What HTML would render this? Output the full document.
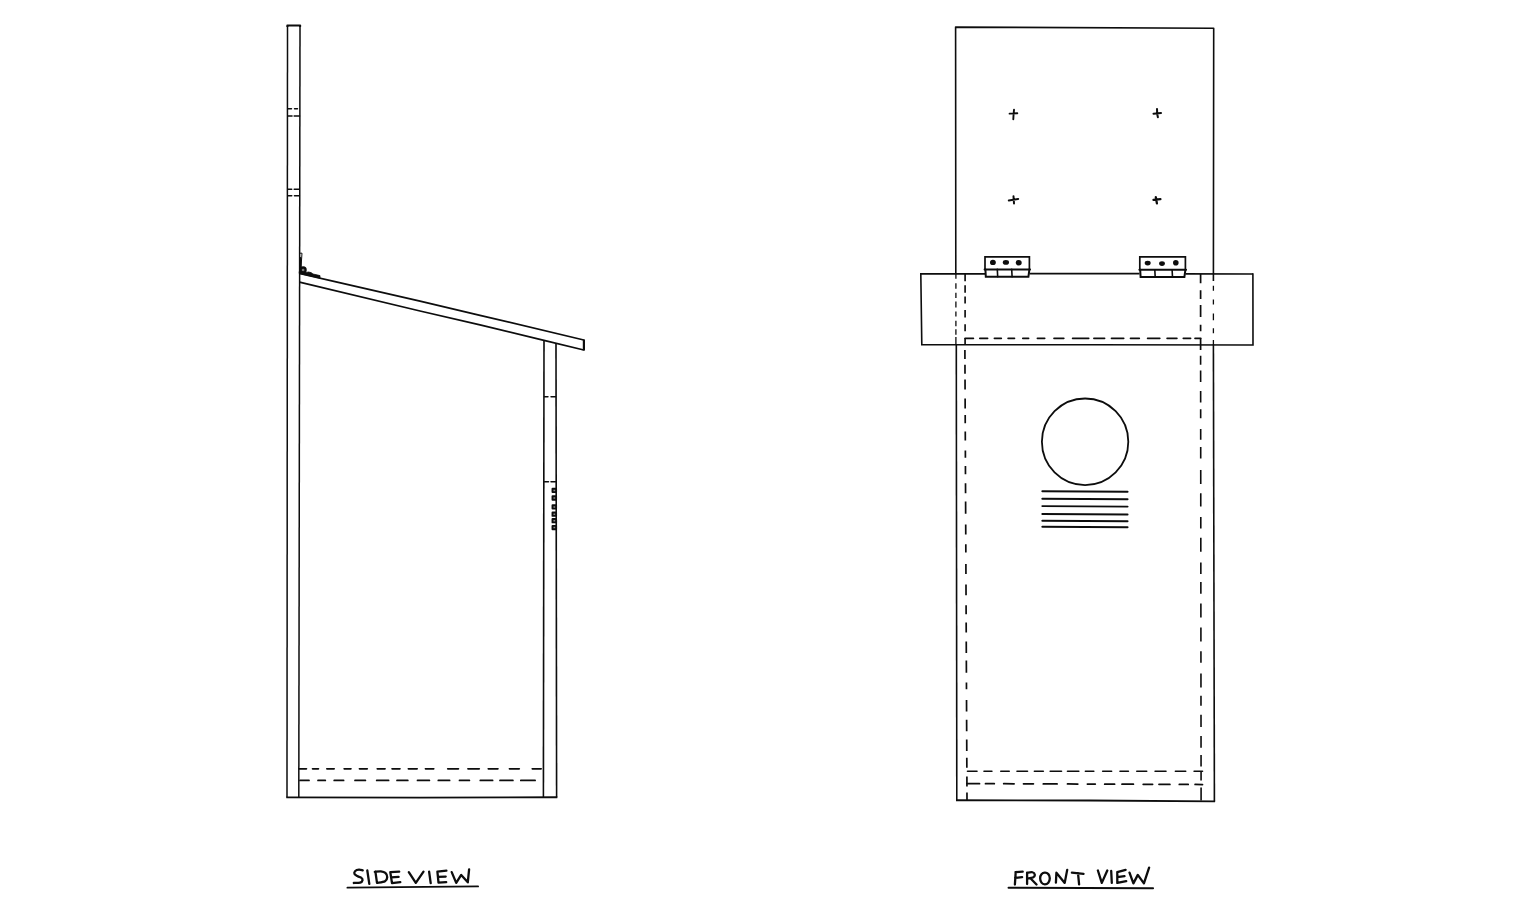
<!DOCTYPE html>
<html><head><meta charset="utf-8"><title>Nest box - side and front view</title>
<style>
html,body{margin:0;padding:0;background:#fff;}
body{width:1536px;height:911px;overflow:hidden;font-family:"Liberation Sans",sans-serif;}
svg{display:block}
</style></head><body>
<svg width="1536" height="911" viewBox="0 0 1536 911" stroke="#0d0d0d" fill="none">
<rect x="0" y="0" width="1536" height="911" fill="#ffffff" stroke="none"/>
<line x1="287.5" y1="26" x2="287.0" y2="797.5" stroke-width="1.5" stroke-linecap="butt"/>
<line x1="300.0" y1="26" x2="298.8" y2="797.5" stroke-width="1.5" stroke-linecap="butt"/>
<path d="M287.4 27L287.3 25.4L300.2 25.4L300.1 27" stroke-width="2.0" fill="none" stroke-linecap="butt" stroke-linejoin="round"/>
<path d="M288 108.7L291.5 108.7M294.5 108.7L297.5 108.7" stroke-width="1.4" fill="none" stroke-linecap="round" stroke-linejoin="round"/>
<path d="M288 116.0L292 116.0M294.2 116.0L299.5 116.0" stroke-width="1.6" fill="none" stroke-linecap="round" stroke-linejoin="round"/>
<path d="M288 189.3L291.7 189.3M294.2 189.3L299.3 189.3" stroke-width="1.5" fill="none" stroke-linecap="round" stroke-linejoin="round"/>
<path d="M288 195.8L291.7 195.8M294.5 195.8L299.3 195.8" stroke-width="1.6" fill="none" stroke-linecap="round" stroke-linejoin="round"/>
<path d="M299.5 273.5L335 281.6L420 301.2L480 315.3L583.8 340" stroke-width="1.7" fill="none" stroke-linecap="butt" stroke-linejoin="round"/>
<path d="M299.5 282.2L420 311L480 324.8L544 340.4L583.8 350" stroke-width="1.7" fill="none" stroke-linecap="butt" stroke-linejoin="round"/>
<path d="M583.9 339.4L583.9 350.6" stroke-width="2.2" fill="none" stroke-linecap="butt" stroke-linejoin="round"/>
<path d="M299.8 253.2L302 253.2L301.3 263L300.8 268" stroke-width="1.0" fill="none" stroke-linecap="round" stroke-linejoin="round"/>
<path d="M300.3 258L300.7 272" stroke-width="2.2" fill="none" stroke-linecap="round" stroke-linejoin="round"/>
<circle cx="303.1" cy="270" r="2.5" stroke-width="2.3" fill="#777"/>
<path d="M299.6 271.6L305 272.7L308.5 272L311 272.6L313 274L320 275.6L320 278.2L299.6 273.6Z" stroke-width="0.8" fill="#0d0d0d" stroke-linecap="round" stroke-linejoin="round"/>
<line x1="544.0" y1="340.6" x2="543.4" y2="797.5" stroke-width="1.6" stroke-linecap="butt"/>
<line x1="556.0" y1="343.6" x2="556.6" y2="797.5" stroke-width="1.6" stroke-linecap="butt"/>
<path d="M286.3 797.4L420 797.6L557.3 797.2" stroke-width="1.9" fill="none" stroke-linecap="butt" stroke-linejoin="round"/>
<path d="M544.5 396.7L548 396.7M551 396.7L555.5 396.7" stroke-width="1.4" fill="none" stroke-linecap="round" stroke-linejoin="round"/>
<path d="M544.5 481.8L548.5 481.8M551 481.8L555.5 481.8" stroke-width="1.5" fill="none" stroke-linecap="round" stroke-linejoin="round"/>
<rect x="552.5" y="488.7" width="3.6" height="3.4" stroke-width="1.9" fill="#8a8a8a" stroke-linejoin="round"/>
<rect x="552.5" y="496.3" width="3.6" height="3.4" stroke-width="1.9" fill="#8a8a8a" stroke-linejoin="round"/>
<rect x="552.5" y="505.2" width="3.6" height="3.4" stroke-width="1.9" fill="#8a8a8a" stroke-linejoin="round"/>
<rect x="552.5" y="512.5" width="3.6" height="3.4" stroke-width="1.9" fill="#8a8a8a" stroke-linejoin="round"/>
<rect x="552.5" y="519.0" width="3.6" height="3.4" stroke-width="1.9" fill="#8a8a8a" stroke-linejoin="round"/>
<rect x="552.5" y="525.9" width="3.6" height="3.4" stroke-width="1.9" fill="#8a8a8a" stroke-linejoin="round"/>
<path d="M298.8 768.8L306.5 768.8M312.5 768.8L318.5 768.8M326.8 768.8L334.2 768.8M344.1 768.8L351 768.8M359.4 768.8L367.3 768.8M377.2 768.8L385.1 768.8M392 768.8L400 768.8M408.3 768.8L417.2 768.8M425.4 768.8L433.8 768.8M447.7 768.8L458.5 768.8M467.9 768.8L479.3 768.8M488.2 768.8L498 768.8M509.4 768.8L519.3 768.8M532.2 768.8L541.2 768.8" stroke-width="1.65" fill="none" stroke-linecap="round" stroke-linejoin="round"/>
<path d="M300 780.4L309 780.4M318 780.4L325.3 780.4M334.2 780.4L343.6 780.4M355 780.4L365.4 780.4M376.7 780.4L388.6 780.4M397 780.4L407.8 780.4M417.5 780.4L429.4 780.4M438.3 780.4L449.6 780.4M459.5 780.4L469.4 780.4M480.3 780.4L492.6 780.4M500 780.4L512.9 780.4M520.8 780.4L535.1 780.4" stroke-width="1.75" fill="none" stroke-linecap="round" stroke-linejoin="round"/>
<path d="M955.8 273.8L955.6 27.1L1213.7 28.3L1213.4 281" stroke-width="1.6" fill="none" stroke-linecap="butt" stroke-linejoin="round"/>
<path d="M1009.6 113.6L1017.3 113.3M1014 109.8L1013.6 114L1013.3 119.2" stroke-width="1.9" fill="none" stroke-linecap="round" stroke-linejoin="round"/>
<path d="M1153.5 113.7L1161 113.1M1157 108.9L1157.2 114L1157.9 117.3" stroke-width="2.0" fill="none" stroke-linecap="round" stroke-linejoin="round"/>
<path d="M1008.8 200.4L1018.2 198.9M1013.5 196.3L1014 203.5" stroke-width="2.0" fill="none" stroke-linecap="round" stroke-linejoin="round"/>
<path d="M1153.5 199.8L1160.4 199.2M1155.8 197.1L1156.9 203.4" stroke-width="2.3" fill="none" stroke-linecap="round" stroke-linejoin="round"/>
<path d="M920.8 273.8L985 273.8M1029.5 273.6L1139.5 273.6M1185.5 273.8L1253 274" stroke-width="1.7" fill="none" stroke-linecap="butt" stroke-linejoin="round"/>
<path d="M920.8 273L921.8 344.6L1090 344.8L1253 345L1252.9 273.2" stroke-width="1.6" fill="none" stroke-linecap="butt" stroke-linejoin="miter"/>
<path d="M985.0 269.4L985.0 256.8L1029.4 256.8L1029.4 269.4" stroke-width="1.7" fill="none" stroke-linecap="round" stroke-linejoin="miter"/>
<path d="M984.6 269.4L1030.0 269.4" stroke-width="2.0" fill="none" stroke-linecap="round" stroke-linejoin="round"/>
<path d="M985.4 269.4L985.8 276.8L1028.4 276.8L1029.4 269.4" stroke-width="2.0" fill="none" stroke-linecap="round" stroke-linejoin="miter"/>
<path d="M997.3 269.4L997.6999999999999 276.8" stroke-width="1.6" fill="none" stroke-linecap="round" stroke-linejoin="round"/>
<path d="M1011.7 269.4L1012.1 276.8" stroke-width="1.6" fill="none" stroke-linecap="round" stroke-linejoin="round"/>
<ellipse cx="992.9" cy="262.4" rx="2.9" ry="2.7" fill="#0d0d0d" stroke="none"/>
<ellipse cx="1005.9" cy="262.4" rx="3.1" ry="2.3" fill="#0d0d0d" stroke="none"/>
<ellipse cx="1018.7" cy="262.7" rx="3.0" ry="2.7" fill="#0d0d0d" stroke="none"/>
<path d="M1139.8 269.8L1139.8 256.8L1185.4 256.8L1185.4 269.8" stroke-width="1.7" fill="none" stroke-linecap="round" stroke-linejoin="miter"/>
<path d="M1139.3999999999999 269.8L1186.0 269.8" stroke-width="2.0" fill="none" stroke-linecap="round" stroke-linejoin="round"/>
<path d="M1140.2 269.8L1140.6 277.0L1184.4 277.0L1185.4 269.8" stroke-width="2.0" fill="none" stroke-linecap="round" stroke-linejoin="miter"/>
<path d="M1154.8 269.8L1155.2 277.0" stroke-width="1.6" fill="none" stroke-linecap="round" stroke-linejoin="round"/>
<path d="M1172.1 269.8L1172.5 277.0" stroke-width="1.6" fill="none" stroke-linecap="round" stroke-linejoin="round"/>
<ellipse cx="1147.7" cy="263.1" rx="3.0" ry="2.3" fill="#0d0d0d" stroke="none"/>
<ellipse cx="1162" cy="263.6" rx="2.9" ry="2.3" fill="#0d0d0d" stroke="none"/>
<ellipse cx="1175.8" cy="262.8" rx="2.8" ry="2.8" fill="#0d0d0d" stroke="none"/>
<path d="M955.9 273.9L955.9 278.8M955.9 283.3L955.9 288.7M955.9 292.7L955.9 298.1M955.9 301.6L955.9 307.5M955.9 311.4L955.9 316.4M955.9 320.8L955.9 326.3M955.9 329.2L955.9 334.7M955.9 337.1L955.9 344.5" stroke-width="1.3" fill="none" stroke-linecap="butt" stroke-linejoin="round"/>
<path d="M965.1 273.9L965.1 281.3M965.1 285.3L965.1 292.7M965.1 296.6L965.1 303.5M965.1 310L965.1 317.4M965.1 324.3L965.1 331.2M965.1 338.1L965.1 344.5" stroke-width="1.65" fill="none" stroke-linecap="butt" stroke-linejoin="round"/>
<path d="M1200.6 274.1L1200.6 283.3M1200.6 290.2L1200.6 299.1M1200.6 305L1200.6 316.9M1200.6 324.8L1200.6 331.2M1200.6 338.6L1200.6 350" stroke-width="1.7" fill="none" stroke-linecap="butt" stroke-linejoin="round"/>
<path d="M1213.4 285.8L1213.4 290.7M1213.4 299.6L1213.4 304.5M1213.4 313.4L1213.4 320.3M1213.4 328.2L1213.4 333.2M1213.4 340.1L1213.4 345" stroke-width="1.3" fill="none" stroke-linecap="butt" stroke-linejoin="round"/>
<path d="M965.1 338.3L973.4 338.3M979.8 338.3L987.6 338.3M994.4 338.3L1001.3 338.3M1008.1 338.3L1014.5 338.3M1022.8 338.3L1028.6 338.3M1037.4 338.3L1044.7 338.3M1054 338.3L1063.8 338.3M1072.6 338.3L1088.7 338.3M1093.9 338.3L1104.6 338.3M1111.5 338.3L1123.7 338.3M1130.5 338.3L1139.3 338.3M1147.6 338.3L1159.8 338.3M1167.1 338.3L1176.9 338.3M1183.3 338.3L1190.6 338.3M1195 338.3L1200.8 338.3" stroke-width="1.7" fill="none" stroke-linecap="round" stroke-linejoin="round"/>
<line x1="956.3" y1="344.5" x2="956.8" y2="800.5" stroke-width="1.6" stroke-linecap="butt"/>
<line x1="1213.4" y1="344.5" x2="1214.4" y2="801.5" stroke-width="1.6" stroke-linecap="butt"/>
<path d="M956 800.2L1090 800.5L1215.1 801.4" stroke-width="1.9" fill="none" stroke-linecap="butt" stroke-linejoin="round"/>
<path d="M964.9 349.9L964.94 358.9M964.97 364.7L965.01 373.8M965.04 379.5L965.08 389.4M965.13 398.5L965.17 408.4M965.2 415L965.24 423.2M965.28 431.4L965.32 440.5M965.37 450.4L965.4 457.8M965.44 466L965.48 474.3M965.52 483.3L965.57 493.2M965.61 501.4L965.66 513.8M965.71 524.5L965.76 534.4M965.81 544.3L965.84 552.5M965.9 564L965.94 573.9M965.99 584.6L966.04 595.3M966.09 605.2L966.13 614.3M966.17 622.5L966.22 632.4M966.26 641.4L966.31 653M966.35 660.4L966.41 672.7M966.45 682.6L966.48 689.2M966.53 699.9L966.59 711.4M966.62 719.7L966.68 731.2M966.72 739.4L966.77 751M966.8 757.8L966.85 767.7M966.89 776.6L966.94 786.4M966.96 792.4L967.0 800.2" stroke-width="1.7" fill="none" stroke-linecap="butt" stroke-linejoin="round"/>
<path d="M1200.6 349.5L1200.6 349.6M1200.61 355.7L1200.62 364.7M1200.62 370.5L1200.64 382M1200.65 391L1200.66 402.6M1200.67 409.2L1200.68 418.3M1200.69 429L1200.7 439.7M1200.71 447L1200.72 458.6M1200.73 470L1200.75 484.1M1200.76 493.2L1200.77 506.4M1200.79 517.1L1200.8 528.6M1200.81 537.7L1200.82 551.7M1200.84 562.4L1200.85 573.9M1200.86 582.1L1200.87 593.7M1200.88 603.6L1200.9 617.6M1200.91 627.4L1200.92 641.4M1200.93 651.3L1200.95 662.8M1200.96 673.5L1200.97 687.5M1200.98 695.8L1200.99 705.7M1201.0 714.7L1201.02 727.1M1201.03 736.1L1201.04 747.7M1201.05 755.1L1201.06 766.4M1201.07 771.6L1201.08 780.5M1201.09 787.4L1201.1 800.4" stroke-width="1.6" fill="none" stroke-linecap="butt" stroke-linejoin="round"/>
<ellipse cx="1085.1" cy="441.8" rx="43.2" ry="43.3" stroke-width="1.8" fill="none"/>
<path d="M1042.3 491.2L1127.6 491.7" stroke-width="1.9" fill="none" stroke-linecap="round" stroke-linejoin="round"/>
<path d="M1042.3 498.7L1127.6 499.2" stroke-width="1.9" fill="none" stroke-linecap="round" stroke-linejoin="round"/>
<path d="M1042.3 506.1L1127.6 506.6" stroke-width="1.9" fill="none" stroke-linecap="round" stroke-linejoin="round"/>
<path d="M1042.3 514L1127.6 514.5" stroke-width="1.9" fill="none" stroke-linecap="round" stroke-linejoin="round"/>
<path d="M1042.3 520.7L1127.6 521.2" stroke-width="1.9" fill="none" stroke-linecap="round" stroke-linejoin="round"/>
<path d="M1042.3 526.7L1127.6 527.2" stroke-width="1.9" fill="none" stroke-linecap="round" stroke-linejoin="round"/>
<path d="M967.5 771.2L977 771.2M984 771.2L991.9 771.2M1000.8 771.2L1009.2 771.2M1017 771.2L1027.5 771.2M1034.4 771.2L1043.3 771.2M1050.2 771.2L1061.5 771.2M1067.5 771.2L1078.8 771.2M1085.4 771.2L1093.8 771.2M1102.7 771.2L1111.6 771.2M1120 771.2L1128.4 771.2M1136.8 771.2L1146.7 771.2M1155.1 771.2L1166 771.2M1175.4 771.2L1185.7 771.2M1194.1 771.2L1202.5 771.2" stroke-width="1.65" fill="none" stroke-linecap="round" stroke-linejoin="round"/>
<path d="M966.9 783.6L979.5 783.65M985.5 783.67L994.3 783.7M1003.7 783.74L1014.1 783.78M1023.5 783.82L1033.4 783.85M1043.3 783.89L1057.1 783.94M1067.5 783.98L1077.8 784.02M1087.4 784.06L1095.3 784.09M1104.7 784.13L1114.6 784.16M1122 784.19L1133.4 784.24M1143.2 784.27L1152.6 784.31M1159 784.33L1169.9 784.38M1179.3 784.41L1188.2 784.45M1195.1 784.47L1202.5 784.5" stroke-width="1.75" fill="none" stroke-linecap="round" stroke-linejoin="round"/>
<path d="M362.76 870.37C362.13 870.24 360.25 869.48 359.00 869.59C357.74 869.70 355.99 870.31 355.24 871.03C354.48 871.75 354.13 873.06 354.46 873.91C354.79 874.76 356.12 875.49 357.23 876.12C358.33 876.75 360.22 876.99 361.10 877.67C361.99 878.35 362.71 879.39 362.54 880.22C362.37 881.05 361.56 882.19 360.11 882.65C358.65 883.11 354.85 882.93 353.80 882.98M367.3 870.5L369.3 883.8M375.4 871.6L377.0 882.9M374.83 871.80C375.84 871.73 379.16 871.18 380.91 871.36C382.67 871.55 384.29 871.95 385.34 872.91C386.39 873.87 387.28 875.71 387.22 877.12C387.17 878.52 386.71 880.36 385.01 881.32C383.31 882.28 378.37 882.61 377.04 882.87M390.3 872.1L392.0 883.2M390.3 872.1L399.2 871.6M391.1 877.3L398.6 876.8M392.0 883.2L400.3 882.2M408.8 872.1L415.8 882.9L423.5 871.6M429.1 871.6L430.7 883.2M437.4 871.6L438.5 882.7M437.4 871.6L446.4 870.7M437.9 876.9L445.7 876.6M438.5 882.7L446.2 882.1M451.7 872.1L456.2 882.9L461.2 874.9L467.8 882.3L469.1 869.4" stroke-width="2.3" fill="none" stroke-linecap="round" stroke-linejoin="round"/>
<path d="M347.4 887.7L478.1 886.4" stroke-width="1.8" fill="none" stroke-linecap="round" stroke-linejoin="round"/>
<path d="M1015.7 872.1L1014.9 884.5M1015.5 872.1L1022.7 871.6M1015.1 877.9L1022.1 877.2M1027.1 872.7L1027.1 884.0M1027.10 872.69C1027.98 872.62 1031.12 871.90 1032.41 872.25C1033.70 872.60 1034.75 873.93 1034.85 874.79C1034.94 875.66 1034.20 876.84 1032.96 877.45C1031.73 878.06 1028.35 878.28 1027.43 878.44M1030.4 878.2L1036.5 884.5M1044.81 872.69C1043.66 872.73 1042.26 873.43 1041.49 874.35C1040.71 875.27 1040.16 876.84 1040.16 878.22C1040.16 879.61 1040.71 881.64 1041.49 882.65C1042.26 883.67 1043.66 884.31 1044.81 884.31C1045.95 884.31 1047.52 883.67 1048.35 882.65C1049.18 881.64 1049.79 879.64 1049.79 878.22C1049.79 876.80 1049.18 875.05 1048.35 874.13C1047.52 873.21 1045.95 872.65 1044.81 872.69M1055.9 882.7L1056.4 872.7L1064.7 882.9L1067.2 869.9M1071.9 872.7L1083.5 873.8M1078.0 873.2L1079.1 884.3M1097.9 870.5L1101.8 882.9L1107.3 870.5M1111.2 871.0L1111.8 882.9M1117.3 872.1L1117.3 882.9M1117.3 872.1L1125.6 869.9M1117.3 877.2L1124.5 876.1M1117.3 882.9L1126.2 881.1M1129.5 872.7L1133.4 883.4L1137.8 874.9L1143.9 883.4L1149.1 867.7" stroke-width="2.3" fill="none" stroke-linecap="round" stroke-linejoin="round"/>
<path d="M1008.5 887.7L1153.1 888.3" stroke-width="1.9" fill="none" stroke-linecap="round" stroke-linejoin="round"/>
</svg>
</body></html>
